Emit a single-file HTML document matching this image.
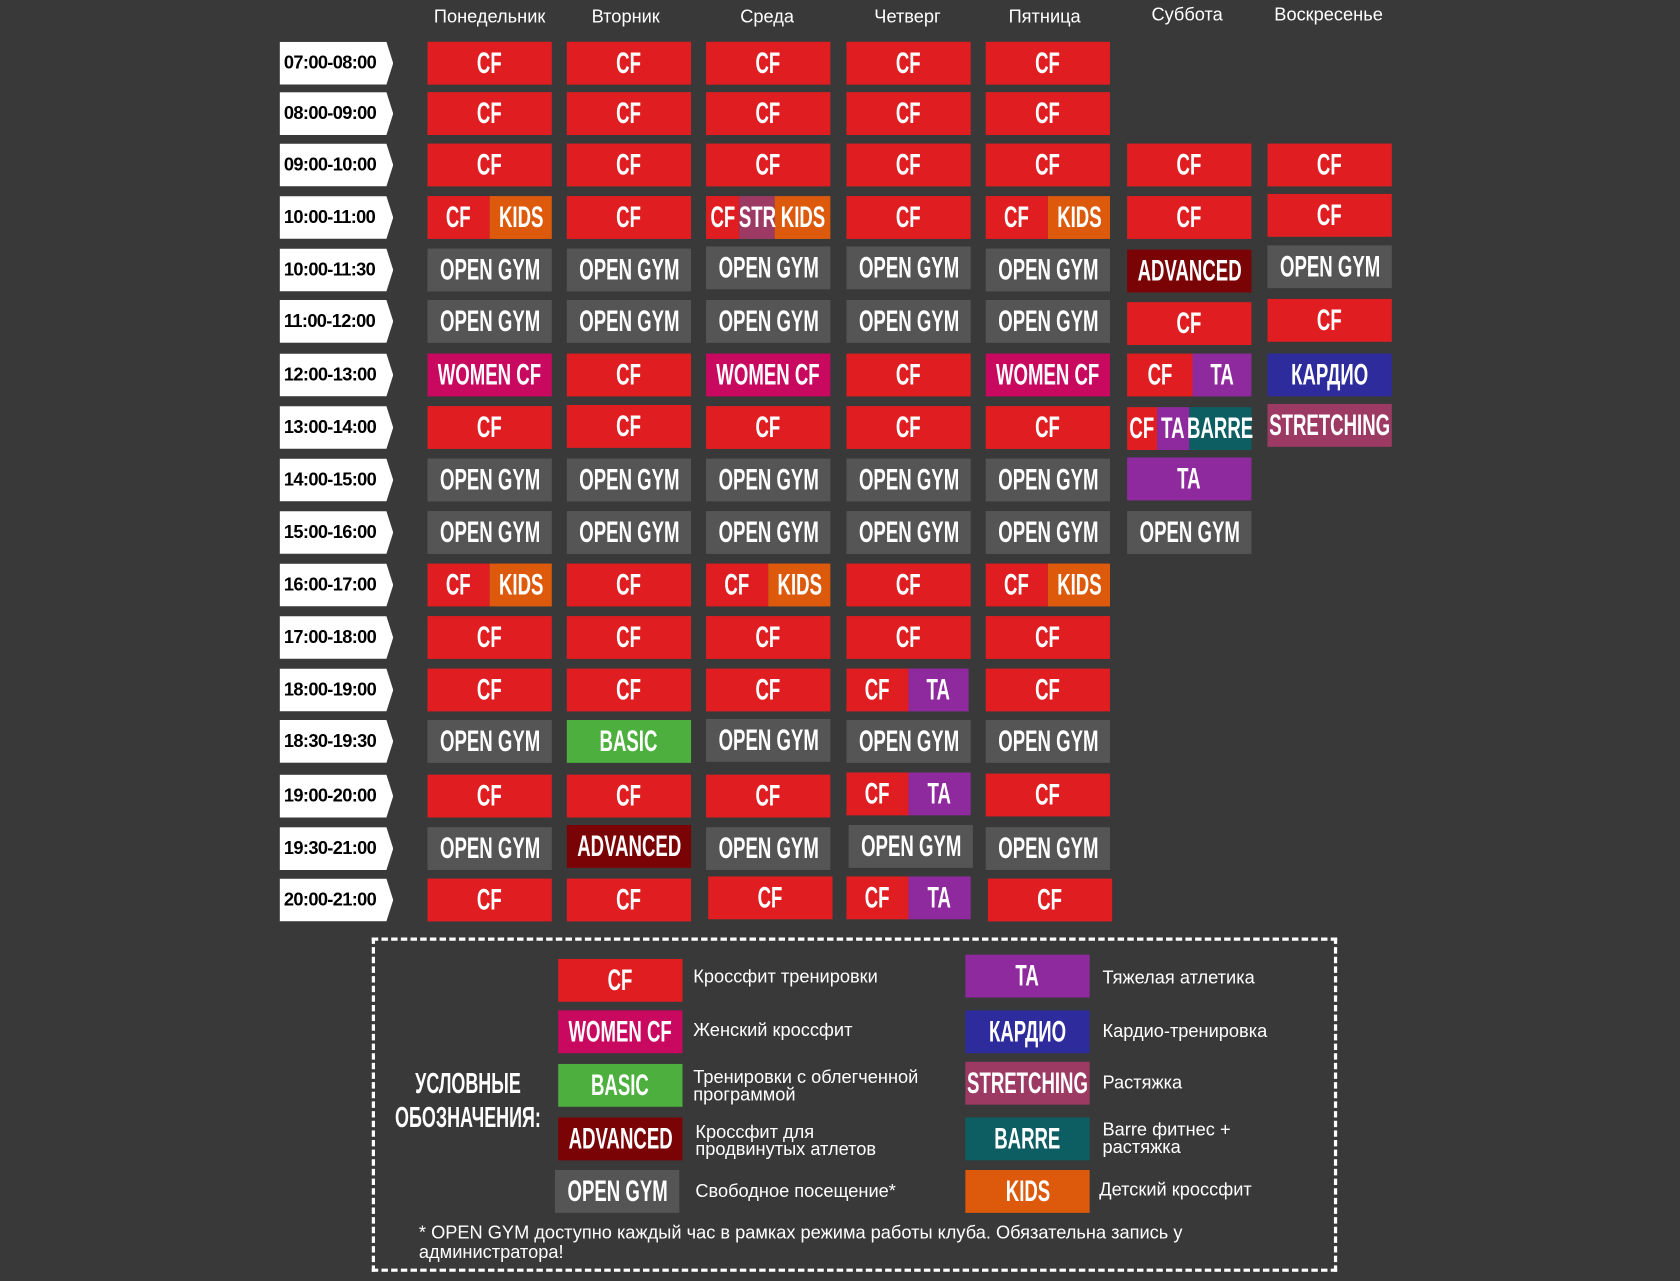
<!DOCTYPE html>
<html><head><meta charset="utf-8">
<style>
html,body{margin:0;padding:0;background:#393939;}
body{width:1680px;height:1281px;overflow:hidden;position:relative;}
#w{position:absolute;left:0;top:0;width:1568px;height:1196px;transform:scale(1.07143);transform-origin:0 0;}
.h{position:absolute;top:6px;width:130px;text-align:center;color:#fff;font:17px "Liberation Sans","DejaVu Sans",sans-serif;}
.t{position:absolute;left:261px;width:106px;height:40px;background:#fff;clip-path:polygon(0 0,94% 0,100% 50%,94% 100%,0 100%);color:#000;font:bold 17px "Liberation Sans",sans-serif;line-height:40px;padding-left:4px;box-sizing:border-box;letter-spacing:-0.6px;}
.b{position:absolute;width:116px;height:40px;display:flex;color:#fff;font:bold 28px "Liberation Sans",sans-serif;line-height:40px;}
.b span{flex:1 1 0;min-width:0;display:flex;justify-content:center;white-space:nowrap;overflow:visible;}
.b i{flex:0 0 auto;display:block;font-style:normal;transform:scaleX(.62);white-space:nowrap;}
.r{background:#e01e22}.k{background:#dd5a0c}.g{background:#555}.w{background:#c8095f}.gr{background:#4caf3e}.a{background:#7a0306}.ta{background:#8e2a9e}.kd{background:#2e2c9c}.st{background:#9c3a64}.ba{background:#0d5e63}
.lt{position:absolute;color:#fff;font:17px "Liberation Sans","DejaVu Sans",sans-serif;line-height:16px;}
</style></head><body><div id="w">
<div class="h" style="left:392px">Понедельник</div>
<div class="h" style="left:519px">Вторник</div>
<div class="h" style="left:651px">Среда</div>
<div class="h" style="left:782px">Четверг</div>
<div class="h" style="left:910px">Пятница</div>
<div class="h" style="left:1043px;top:4px">Суббота</div>
<div class="h" style="left:1175px;top:4px">Воскресенье</div>

<div class="t" style="top:39px">07:00-08:00</div>
<div class="t" style="top:86px">08:00-09:00</div>
<div class="t" style="top:134px">09:00-10:00</div>
<div class="t" style="top:183px">10:00-11:00</div>
<div class="t" style="top:232px">10:00-11:30</div>
<div class="t" style="top:280px">11:00-12:00</div>
<div class="t" style="top:330px">12:00-13:00</div>
<div class="t" style="top:379px">13:00-14:00</div>
<div class="t" style="top:428px">14:00-15:00</div>
<div class="t" style="top:477px">15:00-16:00</div>
<div class="t" style="top:526px">16:00-17:00</div>
<div class="t" style="top:575px">17:00-18:00</div>
<div class="t" style="top:624px">18:00-19:00</div>
<div class="t" style="top:672px">18:30-19:30</div>
<div class="t" style="top:723px">19:00-20:00</div>
<div class="t" style="top:772px">19:30-21:00</div>
<div class="t" style="top:820px">20:00-21:00</div>

<div class="b r" style="left:399px;top:39px"><span><i>CF</i></span></div>
<div class="b r" style="left:529px;top:39px"><span><i>CF</i></span></div>
<div class="b r" style="left:659px;top:39px"><span><i>CF</i></span></div>
<div class="b r" style="left:790px;top:39px"><span><i>CF</i></span></div>
<div class="b r" style="left:920px;top:39px"><span><i>CF</i></span></div>

<div class="b r" style="left:399px;top:86px"><span><i>CF</i></span></div>
<div class="b r" style="left:529px;top:86px"><span><i>CF</i></span></div>
<div class="b r" style="left:659px;top:86px"><span><i>CF</i></span></div>
<div class="b r" style="left:790px;top:86px"><span><i>CF</i></span></div>
<div class="b r" style="left:920px;top:86px"><span><i>CF</i></span></div>

<div class="b r" style="left:399px;top:134px"><span><i>CF</i></span></div>
<div class="b r" style="left:529px;top:134px"><span><i>CF</i></span></div>
<div class="b r" style="left:659px;top:134px"><span><i>CF</i></span></div>
<div class="b r" style="left:790px;top:134px"><span><i>CF</i></span></div>
<div class="b r" style="left:920px;top:134px"><span><i>CF</i></span></div>
<div class="b r" style="left:1052px;top:134px"><span><i>CF</i></span></div>
<div class="b r" style="left:1183px;top:134px"><span><i>CF</i></span></div>

<div class="b" style="left:399px;top:183px"><span class="r"><i>CF</i></span><span class="k"><i>KIDS</i></span></div>
<div class="b r" style="left:529px;top:183px"><span><i>CF</i></span></div>
<div class="b" style="left:659px;top:183px"><span class="r" style="flex:0 0 31px"><i>CF</i></span><span class="st" style="flex:0 0 33px"><i>STR</i></span><span class="k"><i>KIDS</i></span></div>
<div class="b r" style="left:790px;top:183px"><span><i>CF</i></span></div>
<div class="b" style="left:920px;top:183px"><span class="r"><i>CF</i></span><span class="k"><i>KIDS</i></span></div>
<div class="b r" style="left:1052px;top:183px"><span><i>CF</i></span></div>
<div class="b r" style="left:1183px;top:181px"><span><i>CF</i></span></div>

<div class="b g" style="left:399px;top:232px"><span><i>OPEN GYM</i></span></div>
<div class="b g" style="left:529px;top:232px"><span><i>OPEN GYM</i></span></div>
<div class="b g" style="left:659px;top:230px"><span><i>OPEN GYM</i></span></div>
<div class="b g" style="left:790px;top:230px"><span><i>OPEN GYM</i></span></div>
<div class="b g" style="left:920px;top:232px"><span><i>OPEN GYM</i></span></div>
<div class="b a" style="left:1052px;top:233px"><span><i>ADVANCED</i></span></div>
<div class="b g" style="left:1183px;top:229px"><span><i>OPEN GYM</i></span></div>

<div class="b g" style="left:399px;top:280px"><span><i>OPEN GYM</i></span></div>
<div class="b g" style="left:529px;top:280px"><span><i>OPEN GYM</i></span></div>
<div class="b g" style="left:659px;top:280px"><span><i>OPEN GYM</i></span></div>
<div class="b g" style="left:790px;top:280px"><span><i>OPEN GYM</i></span></div>
<div class="b g" style="left:920px;top:280px"><span><i>OPEN GYM</i></span></div>
<div class="b r" style="left:1052px;top:282px"><span><i>CF</i></span></div>
<div class="b r" style="left:1183px;top:279px"><span><i>CF</i></span></div>

<div class="b w" style="left:399px;top:330px"><span><i>WOMEN CF</i></span></div>
<div class="b r" style="left:529px;top:330px"><span><i>CF</i></span></div>
<div class="b w" style="left:659px;top:330px"><span><i>WOMEN CF</i></span></div>
<div class="b r" style="left:790px;top:330px"><span><i>CF</i></span></div>
<div class="b w" style="left:920px;top:330px"><span><i>WOMEN CF</i></span></div>
<div class="b" style="left:1052px;top:330px"><span class="r" style="flex:0 0 61px"><i>CF</i></span><span class="ta"><i>TA</i></span></div>
<div class="b kd" style="left:1183px;top:330px"><span><i>КАРДИО</i></span></div>

<div class="b r" style="left:399px;top:379px"><span><i>CF</i></span></div>
<div class="b r" style="left:529px;top:378px"><span><i>CF</i></span></div>
<div class="b r" style="left:659px;top:379px"><span><i>CF</i></span></div>
<div class="b r" style="left:790px;top:379px"><span><i>CF</i></span></div>
<div class="b r" style="left:920px;top:379px"><span><i>CF</i></span></div>
<div class="b" style="left:1052px;top:380px"><span class="r" style="flex:0 0 28px"><i>CF</i></span><span class="ta" style="flex:0 0 30px"><i>TA</i></span><span class="ba"><i>BARRE</i></span></div>
<div class="b st" style="left:1183px;top:377px"><span><i>STRETCHING</i></span></div>

<div class="b g" style="left:399px;top:428px"><span><i>OPEN GYM</i></span></div>
<div class="b g" style="left:529px;top:428px"><span><i>OPEN GYM</i></span></div>
<div class="b g" style="left:659px;top:428px"><span><i>OPEN GYM</i></span></div>
<div class="b g" style="left:790px;top:428px"><span><i>OPEN GYM</i></span></div>
<div class="b g" style="left:920px;top:428px"><span><i>OPEN GYM</i></span></div>
<div class="b ta" style="left:1052px;top:427px"><span><i>TA</i></span></div>

<div class="b g" style="left:399px;top:477px"><span><i>OPEN GYM</i></span></div>
<div class="b g" style="left:529px;top:477px"><span><i>OPEN GYM</i></span></div>
<div class="b g" style="left:659px;top:477px"><span><i>OPEN GYM</i></span></div>
<div class="b g" style="left:790px;top:477px"><span><i>OPEN GYM</i></span></div>
<div class="b g" style="left:920px;top:477px"><span><i>OPEN GYM</i></span></div>
<div class="b g" style="left:1052px;top:477px"><span><i>OPEN GYM</i></span></div>

<div class="b" style="left:399px;top:526px"><span class="r"><i>CF</i></span><span class="k"><i>KIDS</i></span></div>
<div class="b r" style="left:529px;top:526px"><span><i>CF</i></span></div>
<div class="b" style="left:659px;top:526px"><span class="r"><i>CF</i></span><span class="k"><i>KIDS</i></span></div>
<div class="b r" style="left:790px;top:526px"><span><i>CF</i></span></div>
<div class="b" style="left:920px;top:526px"><span class="r"><i>CF</i></span><span class="k"><i>KIDS</i></span></div>

<div class="b r" style="left:399px;top:575px"><span><i>CF</i></span></div>
<div class="b r" style="left:529px;top:575px"><span><i>CF</i></span></div>
<div class="b r" style="left:659px;top:575px"><span><i>CF</i></span></div>
<div class="b r" style="left:790px;top:575px"><span><i>CF</i></span></div>
<div class="b r" style="left:920px;top:575px"><span><i>CF</i></span></div>

<div class="b r" style="left:399px;top:624px"><span><i>CF</i></span></div>
<div class="b r" style="left:529px;top:624px"><span><i>CF</i></span></div>
<div class="b r" style="left:659px;top:624px"><span><i>CF</i></span></div>
<div class="b" style="left:790px;top:624px;width:114px"><span class="r" style="flex:0 0 58px"><i>CF</i></span><span class="ta"><i>TA</i></span></div>
<div class="b r" style="left:920px;top:624px"><span><i>CF</i></span></div>

<div class="b g" style="left:399px;top:672px"><span><i>OPEN GYM</i></span></div>
<div class="b gr" style="left:529px;top:672px"><span><i>BASIC</i></span></div>
<div class="b g" style="left:659px;top:671px"><span><i>OPEN GYM</i></span></div>
<div class="b g" style="left:790px;top:672px"><span><i>OPEN GYM</i></span></div>
<div class="b g" style="left:920px;top:672px"><span><i>OPEN GYM</i></span></div>

<div class="b r" style="left:399px;top:723px"><span><i>CF</i></span></div>
<div class="b r" style="left:529px;top:723px"><span><i>CF</i></span></div>
<div class="b r" style="left:659px;top:723px"><span><i>CF</i></span></div>
<div class="b" style="left:790px;top:721px;width:116px"><span class="r" style="flex:0 0 58px"><i>CF</i></span><span class="ta"><i>TA</i></span></div>
<div class="b r" style="left:920px;top:722px"><span><i>CF</i></span></div>

<div class="b g" style="left:399px;top:772px"><span><i>OPEN GYM</i></span></div>
<div class="b a" style="left:529px;top:770px"><span><i>ADVANCED</i></span></div>
<div class="b g" style="left:659px;top:772px"><span><i>OPEN GYM</i></span></div>
<div class="b g" style="left:792px;top:770px"><span><i>OPEN GYM</i></span></div>
<div class="b g" style="left:920px;top:772px"><span><i>OPEN GYM</i></span></div>

<div class="b r" style="left:399px;top:820px"><span><i>CF</i></span></div>
<div class="b r" style="left:529px;top:820px"><span><i>CF</i></span></div>
<div class="b r" style="left:661px;top:818px"><span><i>CF</i></span></div>
<div class="b" style="left:790px;top:818px;width:116px"><span class="r" style="flex:0 0 58px"><i>CF</i></span><span class="ta"><i>TA</i></span></div>
<div class="b r" style="left:922px;top:820px"><span><i>CF</i></span></div>

<div style="position:absolute;left:347px;top:875px;width:895px;height:306px;border:3px dashed #fff;"></div>
<div style="position:absolute;left:287px;top:995px;width:300px;display:flex;justify-content:center;color:#fff;font:bold 27px/32px 'Liberation Sans',sans-serif;"><i style="display:block;text-align:center;font-style:normal;transform:scaleX(.62);white-space:nowrap">УСЛОВНЫЕ<br>ОБОЗНАЧЕНИЯ:</i></div>
<div class="b r" style="left:521px;top:895px"><span><i>CF</i></span></div>
<div class="b w" style="left:521px;top:943px"><span><i>WOMEN CF</i></span></div>
<div class="b gr" style="left:521px;top:993px"><span><i>BASIC</i></span></div>
<div class="b a" style="left:521px;top:1043px"><span><i>ADVANCED</i></span></div>
<div class="b g" style="left:518px;top:1092px"><span><i>OPEN GYM</i></span></div>
<div class="lt" style="left:647px;top:904px">Кроссфит тренировки</div>
<div class="lt" style="left:647px;top:954px">Женский кроссфит</div>
<div class="lt" style="left:647px;top:998px">Тренировки с облегченной<br>программой</div>
<div class="lt" style="left:649px;top:1049px">Кроссфит для<br>продвинутых атлетов</div>
<div class="lt" style="left:649px;top:1104px">Свободное посещение*</div>
<div class="b ta" style="left:901px;top:891px"><span><i>TA</i></span></div>
<div class="b kd" style="left:901px;top:943px"><span><i>КАРДИО</i></span></div>
<div class="b st" style="left:901px;top:991px"><span><i>STRETCHING</i></span></div>
<div class="b ba" style="left:901px;top:1043px"><span><i>BARRE</i></span></div>
<div class="b k" style="left:901px;top:1092px"><span><i>KIDS</i></span></div>
<div class="lt" style="left:1029px;top:905px">Тяжелая атлетика</div>
<div class="lt" style="left:1029px;top:955px">Кардио-тренировка</div>
<div class="lt" style="left:1029px;top:1003px">Растяжка</div>
<div class="lt" style="left:1029px;top:1047px">Barre фитнес +<br>растяжка</div>
<div class="lt" style="left:1026px;top:1103px">Детский кроссфит</div>
<div class="lt" style="left:391px;top:1142px;line-height:18px">* OPEN GYM доступно каждый час в рамках режима работы клуба. Обязательна запись у<br>администратора!</div>
</div></body></html>
